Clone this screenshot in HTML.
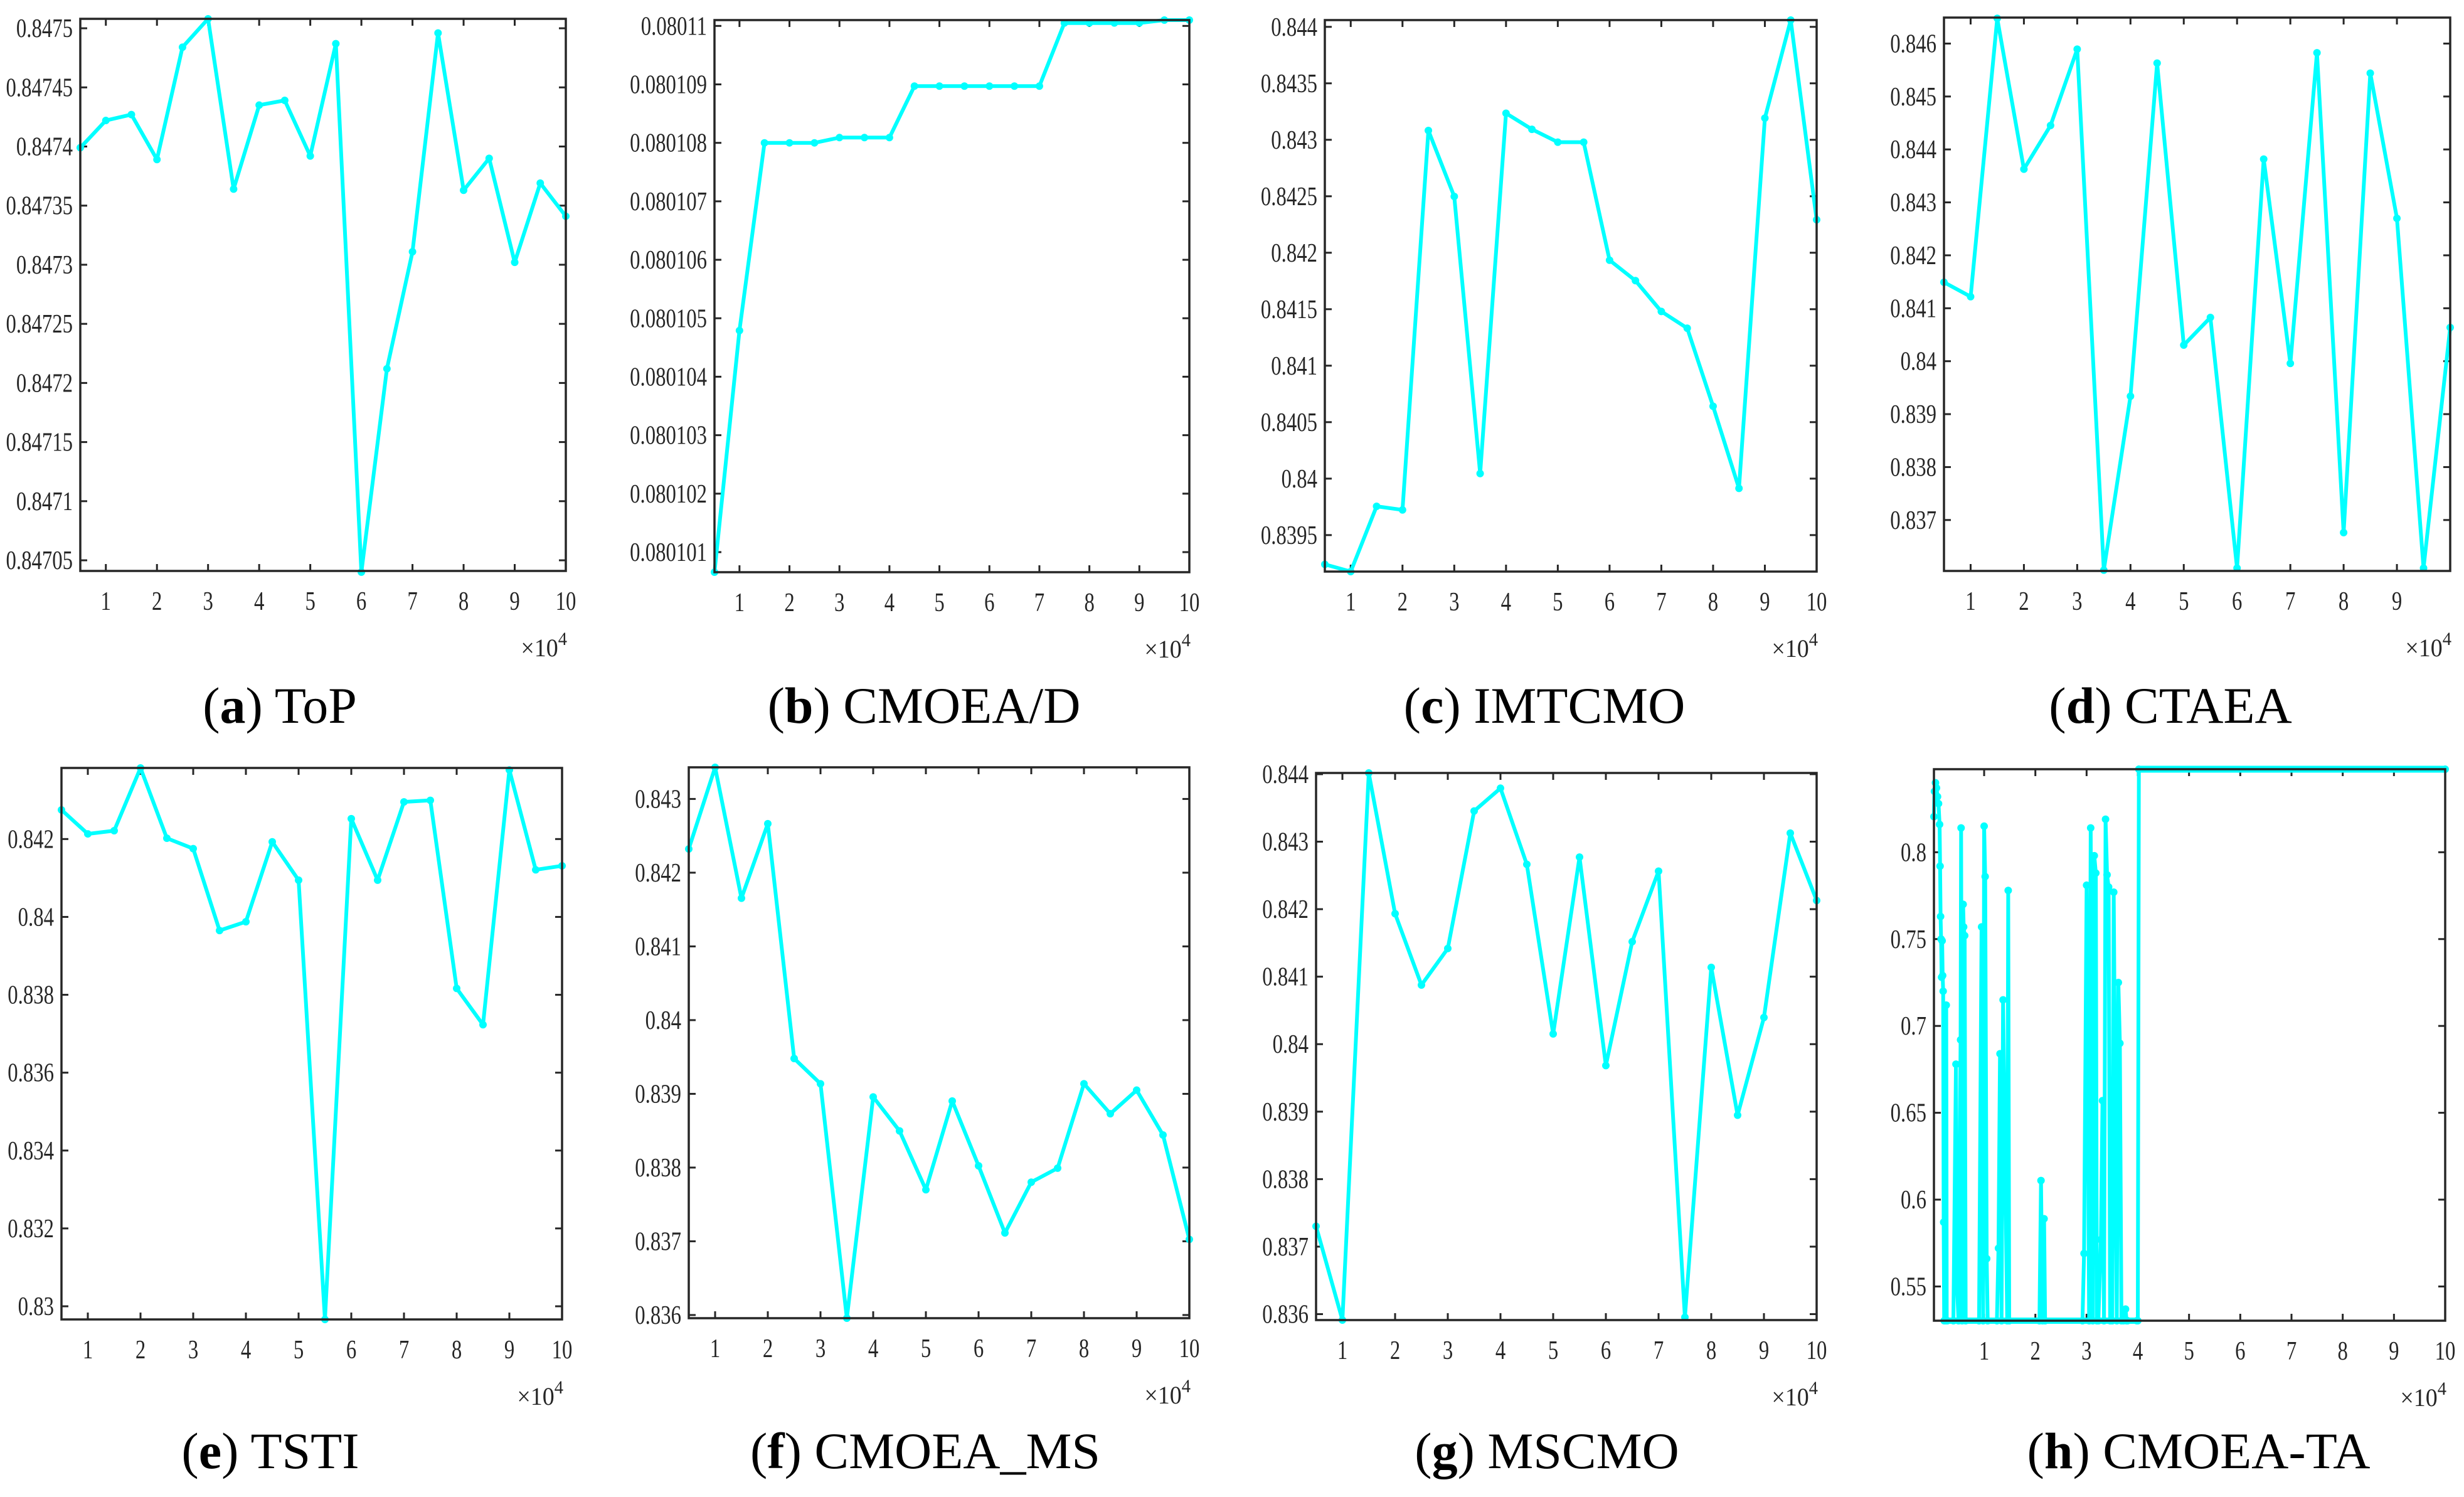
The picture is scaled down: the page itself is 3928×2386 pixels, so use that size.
<!DOCTYPE html>
<html>
<head>
<meta charset="utf-8">
<style>
html,body{margin:0;padding:0;background:#fff;}
svg{display:block;}
</style>
</head>
<body>
<svg id="fig" xmlns="http://www.w3.org/2000/svg" width="3928" height="2386" viewBox="0 0 3928 2386"></svg>
<script>
const xGrid = [0.5,1,1.5,2,2.5,3,3.5,4,4.5,5,5.5,6,6.5,7,7.5,8,8.5,9,9.5,10];
const topVals = [0.847399,0.847422,0.847427,0.847389,0.847484,0.847508,0.847364,0.847435,0.847439,0.847392,0.847487,0.84704,0.847212,0.847311,0.847496,0.847363,0.84739,0.847302,0.847369,0.847341];
const cmoeadVals = [0.0801006566,0.08010479,0.080108,0.080108,0.080108,0.08010809,0.08010809,0.08010809,0.08010897,0.08010897,0.08010897,0.08010897,0.08010897,0.08010897,0.08011005,0.08011005,0.08011005,0.08011005,0.0801101,0.0801101];
const imtcmoVals = [0.839241,0.839177,0.839755,0.839723,0.843082,0.842498,0.840045,0.843235,0.843093,0.842979,0.842979,0.841934,0.841753,0.84148,0.841332,0.840641,0.839914,0.843192,0.84406,0.842292];
const ctaeaVals = [0.841491,0.841219,0.846476,0.843628,0.844452,0.845894,0.836053,0.839338,0.84563,0.840305,0.840826,0.836091,0.843817,0.839958,0.845826,0.836763,0.845441,0.842699,0.836091,0.840637];
const tstiVals = [0.842749,0.842133,0.842215,0.843826,0.842021,0.841754,0.839651,0.839877,0.841928,0.840944,0.829662,0.842523,0.840944,0.842954,0.842995,0.838164,0.837231,0.843774,0.84121,0.841313];
const cmoeamsVals = [0.842322,0.843429,0.841654,0.842664,0.839479,0.839137,0.835957,0.838958,0.838497,0.837699,0.838903,0.838024,0.837113,0.837802,0.837992,0.839137,0.83873,0.83905,0.838442,0.837026];
const mscmoVals = [0.837302,0.835912,0.844018,0.841933,0.840876,0.841417,0.843454,0.843792,0.842664,0.840152,0.842771,0.839683,0.841518,0.842563,0.835954,0.841138,0.838947,0.840395,0.843127,0.842129];
const taX = [0.02,0.03,0.05,0.07,0.09,0.11,0.13,0.14,0.15,0.16,0.17,0.18,0.19,0.2,0.21,0.22,0.24,0.26,0.27,0.28,0.4,0.45,0.46,0.5,0.54,0.55,0.57,0.59,0.6,0.62,0.64,0.9,0.95,0.98,1.0,1.02,1.05,1.07,1.25,1.28,1.31,1.34,1.37,1.45,1.47,1.49,2.08,2.11,2.14,2.17,2.19,2.92,2.95,3.0,3.05,3.08,3.12,3.15,3.18,3.2,3.23,3.28,3.31,3.34,3.37,3.4,3.43,3.46,3.5,3.53,3.56,3.59,3.62,3.65,3.68,3.72,3.76,3.78,3.8,3.98,4.0,4.02,10];
const taY = [0.8205,0.835,0.84,0.837,0.832,0.828,0.816,0.792,0.763,0.75,0.728,0.749,0.729,0.72,0.587,0.5303,0.5303,0.712,0.5303,0.5303,0.5303,0.678,0.558,0.5303,0.692,0.814,0.5303,0.77,0.757,0.752,0.5303,0.5303,0.757,0.5303,0.815,0.786,0.566,0.5303,0.5303,0.572,0.684,0.5303,0.715,0.5303,0.778,0.5303,0.5303,0.611,0.5303,0.589,0.5303,0.5303,0.569,0.781,0.5303,0.814,0.5303,0.798,0.788,0.5303,0.5303,0.577,0.657,0.5303,0.819,0.787,0.78,0.5303,0.5303,0.777,0.646,0.5303,0.725,0.69,0.5303,0.5303,0.537,0.5303,0.5303,0.5303,0.5303,0.8478,0.8478];

const NS = 'http://www.w3.org/2000/svg';
const svg = document.getElementById('fig');
const CYAN = '#00FFFF';
const AX = '#262626';
const TFS = 42;
const TSX = 0.78;

function mk(tag, parent){ const e = document.createElementNS(NS, tag); parent.appendChild(e); return e; }

const panels = [
 {id:'a', cap:'ToP', xs:xGrid, ys:topVals, l:128,r:902,t:30,b:910, xmin:0.5,xmax:10, ymin:0.847041,ymax:0.847508,
  yt:[0.84705,0.8471,0.84715,0.8472,0.84725,0.8473,0.84735,0.8474,0.84745,0.8475], yl:['0.84705','0.8471','0.84715','0.8472','0.84725','0.8473','0.84735','0.8474','0.84745','0.8475'], xt:[1,2,3,4,5,6,7,8,9,10], cx:446, cy:1152},
 {id:'b', cap:'CMOEA/D', xs:xGrid, ys:cmoeadVals, l:1139,r:1896,t:32,b:912, xmin:0.5,xmax:10, ymin:0.0801006566,ymax:0.0801101,
  yt:[0.080101,0.080102,0.080103,0.080104,0.080105,0.080106,0.080107,0.080108,0.080109,0.08011], yl:['0.080101','0.080102','0.080103','0.080104','0.080105','0.080106','0.080107','0.080108','0.080109','0.08011'], xt:[1,2,3,4,5,6,7,8,9,10], cx:1473, cy:1152},
 {id:'c', cap:'IMTCMO', xs:xGrid, ys:imtcmoVals, l:2112,r:2896,t:32,b:911, xmin:0.5,xmax:10, ymin:0.839177,ymax:0.84406,
  yt:[0.8395,0.84,0.8405,0.841,0.8415,0.842,0.8425,0.843,0.8435,0.844], yl:['0.8395','0.84','0.8405','0.841','0.8415','0.842','0.8425','0.843','0.8435','0.844'], xt:[1,2,3,4,5,6,7,8,9,10], cx:2462, cy:1152},
 {id:'d', cap:'CTAEA', xs:xGrid, ys:ctaeaVals, l:3099,r:3906,t:28,b:910, xmin:0.5,xmax:10, ymin:0.836038,ymax:0.846491,
  yt:[0.837,0.838,0.839,0.84,0.841,0.842,0.843,0.844,0.845,0.846], yl:['0.837','0.838','0.839','0.84','0.841','0.842','0.843','0.844','0.845','0.846'], xt:[1,2,3,4,5,6,7,8,9], cx:3460, cy:1152},
 {id:'e', cap:'TSTI', xs:xGrid, ys:tstiVals, l:98,r:896,t:1224,b:2103, xmin:0.5,xmax:10, ymin:0.829662,ymax:0.843826,
  yt:[0.83,0.832,0.834,0.836,0.838,0.84,0.842], yl:['0.83','0.832','0.834','0.836','0.838','0.84','0.842'], xt:[1,2,3,4,5,6,7,8,9,10], cx:431, cy:2340},
 {id:'f', cap:'CMOEA_MS', xs:xGrid, ys:cmoeamsVals, l:1098,r:1896,t:1223,b:2101, xmin:0.5,xmax:10, ymin:0.835957,ymax:0.843429,
  yt:[0.836,0.837,0.838,0.839,0.84,0.841,0.842,0.843], yl:['0.836','0.837','0.838','0.839','0.84','0.841','0.842','0.843'], xt:[1,2,3,4,5,6,7,8,9,10], cx:1475, cy:2340},
 {id:'g', cap:'MSCMO', xs:xGrid, ys:mscmoVals, l:2098,r:2896,t:1232,b:2104, xmin:0.5,xmax:10, ymin:0.835912,ymax:0.844018,
  yt:[0.836,0.837,0.838,0.839,0.84,0.841,0.842,0.843,0.844], yl:['0.836','0.837','0.838','0.839','0.84','0.841','0.842','0.843','0.844'], xt:[1,2,3,4,5,6,7,8,9,10], cx:2466, cy:2340},
 {id:'h', cap:'CMOEA-TA', xs:taX, ys:taY, l:3083,r:3898,t:1226,b:2105, xmin:0.02,xmax:10, ymin:0.5303,ymax:0.8478,
  yt:[0.55,0.6,0.65,0.7,0.75,0.8], yl:['0.55','0.6','0.65','0.7','0.75','0.8'], xt:[1,2,3,4,5,6,7,8,9,10], cx:3505, cy:2340, thickTop:true}
];

panels.forEach(p => {
  const g = mk('g', svg);
  
  
  const X = v => p.l + (v - p.xmin) / (p.xmax - p.xmin) * (p.r - p.l);
  const Y = v => p.b - (v - p.ymin) / (p.ymax - p.ymin) * (p.b - p.t);

  p.yt.forEach((v, i) => {
    const y = Y(v);
    const t1 = mk('line', g);
    
    
    t1.setAttribute('x1', p.l); t1.setAttribute('x2', p.l + 11); t1.setAttribute('y1', y); t1.setAttribute('y2', y);
    t1.setAttribute('stroke', AX); t1.setAttribute('stroke-width', 3);
    const t2 = mk('line', g);
    
    
    t2.setAttribute('x1', p.r); t2.setAttribute('x2', p.r - 11); t2.setAttribute('y1', y); t2.setAttribute('y2', y);
    t2.setAttribute('stroke', AX); t2.setAttribute('stroke-width', 3);
    const tx = mk('text', g);
    
    
    tx.setAttribute('transform', 'translate(' + (p.l - 12) + ',' + (y + 14) + ') scale(' + TSX + ',1)');
    tx.setAttribute('text-anchor', 'end');
    tx.setAttribute('font-family', '"Liberation Serif", serif');
    tx.setAttribute('font-size', TFS);
    tx.setAttribute('fill', AX);
    tx.textContent = p.yl[i];
  });
  p.xt.forEach(v => {
    const x = X(v);
    const t1 = mk('line', g);
    
    
    t1.setAttribute('x1', x); t1.setAttribute('x2', x); t1.setAttribute('y1', p.b); t1.setAttribute('y2', p.b - 11);
    t1.setAttribute('stroke', AX); t1.setAttribute('stroke-width', 3);
    const t2 = mk('line', g);
    
    
    t2.setAttribute('x1', x); t2.setAttribute('x2', x); t2.setAttribute('y1', p.t); t2.setAttribute('y2', p.t + 11);
    t2.setAttribute('stroke', AX); t2.setAttribute('stroke-width', 3);
    const tx = mk('text', g);
    
    
    tx.setAttribute('transform', 'translate(' + x + ',' + (p.b + 62) + ') scale(' + TSX + ',1)');
    tx.setAttribute('text-anchor', 'middle');
    tx.setAttribute('font-family', '"Liberation Serif", serif');
    tx.setAttribute('font-size', TFS);
    tx.setAttribute('fill', AX);
    tx.textContent = String(v);
  });

  const pts = p.xs.map((x, i) => X(x).toFixed(1) + ',' + Y(p.ys[i]).toFixed(1)).join(' ');
  const line = mk('polyline', g);
  
  
  line.setAttribute('points', pts);
  line.setAttribute('fill', 'none');
  line.setAttribute('stroke', CYAN);
  line.setAttribute('stroke-width', 6);
  line.setAttribute('stroke-linejoin', 'round');
  p.xs.forEach((x, i) => {
    const c = mk('circle', g);
    
    
    c.setAttribute('cx', X(x)); c.setAttribute('cy', Y(p.ys[i])); c.setAttribute('r', 6);
    c.setAttribute('fill', CYAN);
  });
  if (p.thickTop) {
    const n = p.xs.length;
    const tl = mk('line', g);
    
    
    tl.setAttribute('x1', X(p.xs[n - 2])); tl.setAttribute('x2', X(p.xs[n - 1]));
    tl.setAttribute('y1', Y(p.ys[n - 2])); tl.setAttribute('y2', Y(p.ys[n - 1]));
    tl.setAttribute('stroke', CYAN); tl.setAttribute('stroke-width', 11);
    const bl = mk('line', g);
    
    
    bl.setAttribute('x1', X(0.22)); bl.setAttribute('x2', X(4.0));
    bl.setAttribute('y1', Y(0.5303)); bl.setAttribute('y2', Y(0.5303));
    bl.setAttribute('stroke', CYAN); bl.setAttribute('stroke-width', 10);
  }

  const fr = mk('rect', g);
  
  
  fr.setAttribute('x', p.l); fr.setAttribute('y', p.t);
  fr.setAttribute('width', p.r - p.l); fr.setAttribute('height', p.b - p.t);
  fr.setAttribute('fill', 'none'); fr.setAttribute('stroke', AX); fr.setAttribute('stroke-width', 3.5);

  const ex = mk('text', g);
  
  
  ex.setAttribute('transform', 'translate(' + (p.r + 2) + ',' + (p.b + 136) + ') scale(0.95,1)');
  ex.setAttribute('text-anchor', 'end');
  ex.setAttribute('font-family', '"Liberation Serif", serif');
  ex.setAttribute('font-size', 40);
  ex.setAttribute('fill', AX);
  ex.textContent = '\u00D710';
  const ts = mk('tspan', ex);
  ts.setAttribute('dy', -18);
  ts.setAttribute('font-size', 30);
  ts.textContent = '4';

  const cap = mk('text', g);
  
  
  cap.setAttribute('x', p.cx); cap.setAttribute('y', p.cy);
  cap.setAttribute('text-anchor', 'middle');
  cap.setAttribute('font-family', '"Liberation Serif", serif');
  cap.setAttribute('font-size', 82);
  cap.setAttribute('fill', '#000');
  const s1 = mk('tspan', cap);
  s1.textContent = '(';
  const s2 = mk('tspan', cap);
  s2.setAttribute('font-weight', 'bold');
  s2.textContent = p.id;
  const s3 = mk('tspan', cap);
  s3.textContent = ') ' + p.cap;
});
</script>
</body>
</html>
